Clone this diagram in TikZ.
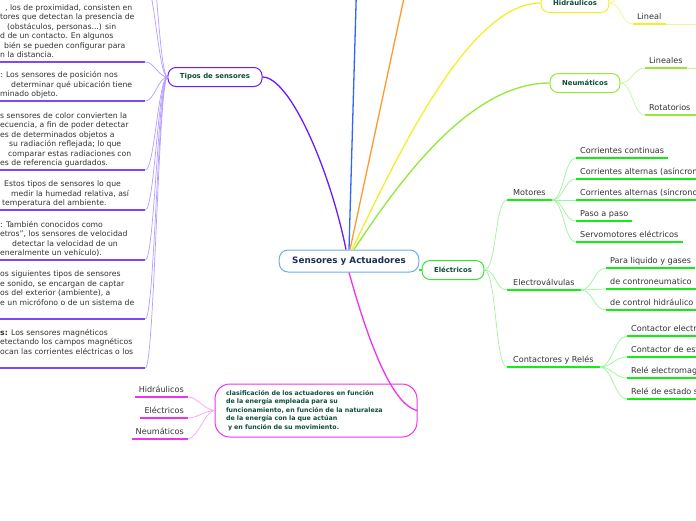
\documentclass[tikz,border=0pt]{standalone}
\usepackage{fontspec}
\setmainfont{DejaVu Sans}
\definecolor{rootline}{HTML}{6AB0E4}
\definecolor{roottext}{HTML}{1C2F57}
\definecolor{topictext}{HTML}{0E4D3B}
\definecolor{leaftext}{HTML}{333333}
\definecolor{morado}{HTML}{6A1CFF}
\definecolor{moradou}{HTML}{7F45FF}
\definecolor{moradot}{HTML}{B79DFF}
\definecolor{azul}{HTML}{2F64FF}
\definecolor{naranja}{HTML}{FF9A2E}
\definecolor{amarillo}{HTML}{F0F02A}
\definecolor{amarillot}{HTML}{F5F590}
\definecolor{lima}{HTML}{95E83A}
\definecolor{limat}{HTML}{C8F59E}
\definecolor{verde}{HTML}{2FE82F}
\definecolor{verdeu}{HTML}{11EE11}
\definecolor{verdet}{HTML}{9CF59C}
\definecolor{magenta}{HTML}{EE33EE}
\definecolor{magentat}{HTML}{F5A5F5}
% one line of a sensor text block, optional left offset
\newcommand{\sline}[2][0pt]{\makebox[145pt][l]{\hspace*{#1}#2}}
\tikzset{
  root/.style={draw=rootline, line width=1pt, rounded corners=9pt, fill=white,
    text=roottext, font=\bfseries\fontsize{8.8}{10}\selectfont,
    inner xsep=13pt, minimum height=22pt},
  topic/.style={draw, line width=1pt, rounded corners=8pt, fill=white,
    text=topictext, font=\bfseries\fontsize{6.9}{8}\selectfont,
    inner xsep=12pt, minimum height=19pt},
  leaf/.style={text=leaftext, font=\fontsize{8.1}{9}\selectfont,
    inner xsep=4pt, inner ysep=2pt, text height=6pt, text depth=2pt},
  sblock/.style={anchor=south west, inner xsep=0pt,
    inner ysep=1.5pt, align=left, text=leaftext,
    font=\fontsize{7.7}{9.4}\selectfont},
  uline/.style={line width=1.8pt},
  twig/.style={line width=0.7pt},
  limb/.style={line width=1.3pt},
  br/.style={out=0, in=180, out distance=12pt, in distance=12pt},
  bl/.style={out=180, in=0, out distance=9pt, in distance=9pt}
}
\begin{document}
\begin{tikzpicture}[x=1pt, y=-1pt]
\fill[white] (0,0) rectangle (696,520);
\useasboundingbox (0,0) rectangle (696,520);

% centro
\node[root] (sa) at (349,261) {Sensores y Actuadores};
\coordinate (azularr) at (357,-30);
\coordinate (naranjaarr) at (410,-30);
\draw[limb, azul] ([xshift=0pt]sa.north) -- (azularr);
\draw[limb, naranja] ([xshift=1pt]sa.north) -- (naranjaarr);

% actuadores por tipo
\node[topic, draw=amarillo] (hidr) at (575,3) {Hidráulicos};
\node[topic, draw=lima] (neum) at (585,83) {Neumáticos};
\node[topic, draw=verde] (elec) at (453,270) {Eléctricos};
\draw[limb, amarillo] ([xshift=3pt]sa.north) .. controls (400,150) and (470,3) .. (hidr.west);
\draw[limb, lima] ([xshift=5pt]sa.north) .. controls (400,180) and (470,83) .. (neum.west);
\draw[limb, verde] (sa.east |- elec.west) -- (elec.west);

% hidraulicos
\coordinate (hidrup) at (632,-22);
\coordinate (linealsig) at (710,24);
\node[leaf, anchor=south west] (lineal) at (633,24) {Lineal};
\draw[twig, amarillot] (hidr.east) to[br] (hidrup);
\draw[twig, amarillot] (hidr.east) to[br] (lineal.south west);
\draw[uline, amarillo] (lineal.south west) -- (lineal.south east);
\draw[twig, amarillot] (lineal.south east) -- (linealsig);

% neumaticos
\coordinate (linealessig) at (710,68);
\coordinate (rotatsig) at (710,115);
\node[leaf, anchor=south west] (lineales) at (645,68) {Lineales};
\node[leaf, anchor=south west] (rotat) at (645,115) {Rotatorios};
\foreach \n in {lineales, rotat} {
  \draw[twig, limat] (neum.east) to[br] (\n.south west);
  \draw[uline, lima] (\n.south west) -- (\n.south east);
}
\draw[twig, limat] (lineales.south east) -- (linealessig);
\draw[uline, lima] (rotat.south east) -- (rotatsig);

% electricos
\node[leaf, anchor=south west, inner xsep=6pt] (motores) at (507,200) {Motores};
\node[leaf, anchor=south west, inner xsep=6pt] (valv) at (507,290) {Electroválvulas\hspace{7pt}};
\node[leaf, anchor=south west, inner xsep=6pt] (contac) at (507,367) {Contactores y Relés\hspace{4pt}};
\foreach \n in {motores, valv, contac} {
  \draw[twig, verdet] (elec.east) to[br] (\n.south west);
  \draw[uline, verdeu] (\n.south west) -- (\n.south east);
}

\node[leaf, anchor=south west] (cc) at (576,158) {Corrientes continuas};
\node[leaf, anchor=south west] (caa) at (576,179) {Corrientes alternas (asíncron};
\node[leaf, anchor=south west] (cas) at (576,200) {Corrientes alternas (síncrono};
\node[leaf, anchor=south west] (paso) at (576,221) {Paso a paso};
\node[leaf, anchor=south west] (servo) at (576,242) {Servomotores eléctricos};
\foreach \n in {cc, caa, cas, paso, servo} {
  \draw[twig, verdet] (motores.south east) to[br] (\n.south west);
  \draw[uline, verdeu] (\n.south west) -- (\n.south east);
}

\node[leaf, anchor=south west] (liq) at (606,268) {Para liquido y gases};
\node[leaf, anchor=south west] (vneu) at (606,289) {de controneumatico\hspace{4pt}};
\node[leaf, anchor=south west] (vhid) at (606,310) {de control hidráulico};
\foreach \n in {liq, vneu, vhid} {
  \draw[twig, verdet] (valv.south east) to[br] (\n.south west);
  \draw[uline, verdeu] (\n.south west) -- (\n.south east);
}

\node[leaf, anchor=south west] (cel) at (627,336) {Contactor electro};
\node[leaf, anchor=south west] (ces) at (627,357) {Contactor de est};
\node[leaf, anchor=south west] (rel) at (627,378) {Relé electromag};
\node[leaf, anchor=south west] (res) at (627,399) {Relé de estado s};
\foreach \n in {cel, ces, rel, res} {
  \draw[twig, verdet] (contac.south east) to[br] (\n.south west);
  \draw[uline, verdeu] (\n.south west) -- (\n.south east);
}

% clasificacion de actuadores
\node[topic, draw=magenta, rounded corners=15pt, text width=180pt, align=left,
  inner xsep=11pt, font=\bfseries\fontsize{6.3}{8.5}\selectfont,
  minimum height=53pt] (clas) at (316,410.5)
  {clasificación de los actuadores en función\\
   de la energía empleada para su\\
   funcionamiento, en función de la naturaleza\\
   de la energía con la que actúan\\
   \hspace*{2pt}y en función de su movimiento.};
\draw[limb, magenta] (sa.south) .. controls (365,330) and (390,405) .. (clas.east);

\node[leaf, anchor=south east] (ahid) at (188,397) {Hidráulicos};
\node[leaf, anchor=south east] (aele) at (188,418) {Eléctricos};
\node[leaf, anchor=south east] (aneu) at (188,439) {Neumáticos};
\foreach \n in {ahid, aele, aneu} {
  \draw[twig, magentat] (clas.west) to[bl] (\n.south east);
  \draw[uline, magenta] (\n.south west) -- (\n.south east);
}

% tipos de sensores
\node[topic, draw=morado] (tipos) at (215,77) {Tipos de sensores};
\draw[limb, morado] (tipos.east) .. controls (290,77) and (330,170) .. ([xshift=-3pt]sa.north);

\coordinate (sensarr) at (145,-20);
\coordinate (sensarr2) at (145,-90);
\draw[twig, moradot] (tipos.west) to[bl] (sensarr);
\draw[twig, moradot] (tipos.west) to[bl] (sensarr2);

\node[sblock] (prox) at (0,62) {\sline[5pt]{, los de proximidad, consisten en}\\
\sline{tores que detectan la presencia de}\\
\sline[7pt]{(obstáculos, personas...) sin}\\
\sline{d de un contacto. En algunos}\\
\sline[4pt]{bién se pueden configurar para}\\
\sline{n la distancia.\strut}};
\node[sblock] (posic) at (0,101) {\sline{: Los sensores de posición nos}\\
\sline[11pt]{determinar qué ubicación tiene}\\
\sline{minado objeto.\strut}};
\node[sblock] (color) at (0,170) {\sline{s sensores de color convierten la}\\
\sline{ecuencia, a fin de poder detectar}\\
\sline{es de determinados objetos a}\\
\sline[9pt]{su radiación reflejada; lo que}\\
\sline[8pt]{comparar estas radiaciones con}\\
\sline{es de referencia guardados.\strut}};
\node[sblock] (humed) at (0,210) {\sline[4pt]{Estos tipos de sensores lo que}\\
\sline[11pt]{medir la humedad relativa, así}\\
\sline[2pt]{temperatura del ambiente.\strut}};
\node[sblock] (veloc) at (0,260) {\sline{: También conocidos como}\\
\sline{etros”, los sensores de velocidad}\\
\sline[12pt]{detectar la velocidad de un}\\
\sline{eneralmente un vehículo).\strut}};
\node[sblock] (sonido) at (0,319) {\sline{os siguientes tipos de sensores}\\
\sline{e sonido, se encargan de captar}\\
\sline{os del exterior (ambiente), a}\\
\sline{e un micrófono o de un sistema de}\\
\sline{\strut}};
\node[sblock] (magnet) at (0,368) {\sline{\textbf{s:} Los sensores magnéticos}\\
\sline{etectando los campos magnéticos}\\
\sline{ocan las corrientes eléctricas o los}\\
\sline{\strut}};
\foreach \n in {prox, posic, color, humed, veloc, sonido, magnet} {
  \draw[twig, moradot] (tipos.west) to[bl] (\n.south east);
  \draw[uline, moradou] (\n.south west) -- (\n.south east);
}
\end{tikzpicture}
\end{document}
